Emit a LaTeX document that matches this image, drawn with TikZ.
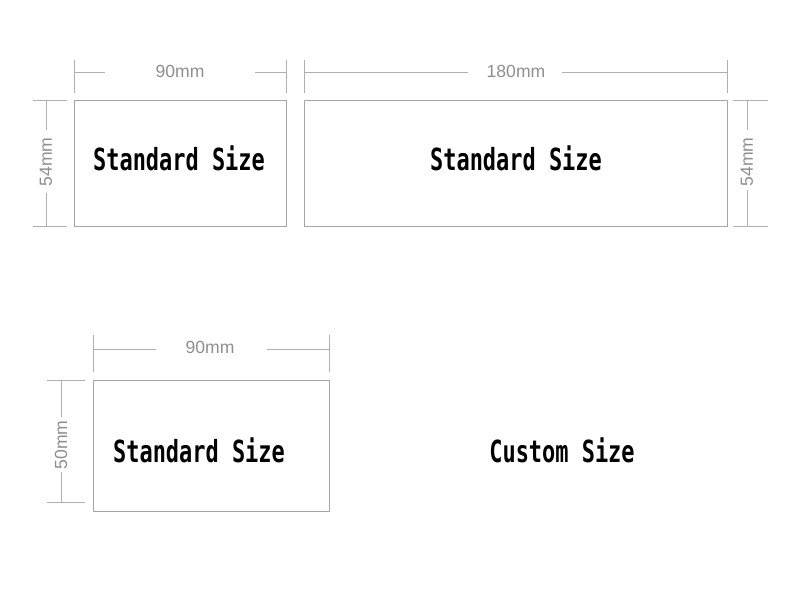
\documentclass[tikz,border=0pt]{standalone}
\usepackage{fontspec}
\setmainfont{Liberation Sans}
\newfontfamily\cardfont[FakeStretch=0.72]{DejaVu Sans Mono}
\usetikzlibrary{positioning}
\definecolor{edgegray}{HTML}{A5A5A5}
\definecolor{dimgray}{HTML}{B0B0B0}
\definecolor{dimtext}{HTML}{8E8E8E}
\tikzset{
  card/.style={ % outline of one card
    draw=edgegray, line width=0.75pt, rectangle, inner sep=0pt
  },
  sizetext/.style={ % big label set inside a card
    font=\cardfont\bfseries\fontsize{26}{26}\selectfont,
    text=black, inner sep=0pt
  },
  dimline/.style={ % thin gray measuring line
    draw=dimgray, line width=0.8pt
  },
  dimlabel/.style={ % gray size figure
    font=\fontsize{15}{15}\selectfont, text=dimtext, inner sep=0pt
  }
}

\begin{document}
\begin{tikzpicture}[x=0.03cm, y=-0.03cm]
  \useasboundingbox (0,0) rectangle (800,606);

  % the three cards
  \node[card, minimum width=6.36cm, minimum height=3.78cm] (b1) at (180,163) {};
  \node[card, minimum width=12.69cm, minimum height=3.78cm] (b2) at (515.5,163) {};
  \node[card, minimum width=7.08cm, minimum height=3.93cm] (b3) at (211,445.5) {};

  \node[sizetext] (std1) at (179,158) {Standard Size};
  \node[sizetext] (std2) at (516,158) {Standard Size};
  \node[sizetext] (std3) at (199,450) {Standard Size};
  \node[sizetext] (custom) at (562,450) {Custom Size};

  % width of card 1
  \node[dimlabel] (w1) at (180,71) {90mm};
  \draw[dimline] (74,60) -- (74,93) (286,60) -- (286,93);
  \draw[dimline] (74,72.5) -- (105,72.5) (255,72.5) -- (286,72.5);
  % height of card 1
  \node[dimlabel, rotate=90] (h1) at (46,162) {54mm};
  \draw[dimline] (33,100) -- (67,100) (33,226) -- (67,226);
  \draw[dimline] (46,100) -- (46,130) (46,193) -- (46,226);

  % width of card 2
  \node[dimlabel] (w2) at (516,71) {180mm};
  \draw[dimline] (304,60) -- (304,93) (727,60) -- (727,93);
  \draw[dimline] (304,72.5) -- (468,72.5) (562,72.5) -- (727,72.5);
  % height of card 2
  \node[dimlabel, rotate=90] (h2) at (747,162) {54mm};
  \draw[dimline] (733,100) -- (768,100) (733,226) -- (768,226);
  \draw[dimline] (747,100) -- (747,130) (747,190) -- (747,226);

  % width of card 3
  \node[dimlabel] (w3) at (210,347) {90mm};
  \draw[dimline] (93,335) -- (93,372) (329,335) -- (329,372);
  \draw[dimline] (93,349) -- (156,349) (267,349) -- (329,349);
  % height of card 3
  \node[dimlabel, rotate=90] (h3) at (61,445) {50mm};
  \draw[dimline] (47,380) -- (85,380) (47,502) -- (85,502);
  \draw[dimline] (61,380) -- (61,417) (61,472) -- (61,502);
\end{tikzpicture}
\end{document}
